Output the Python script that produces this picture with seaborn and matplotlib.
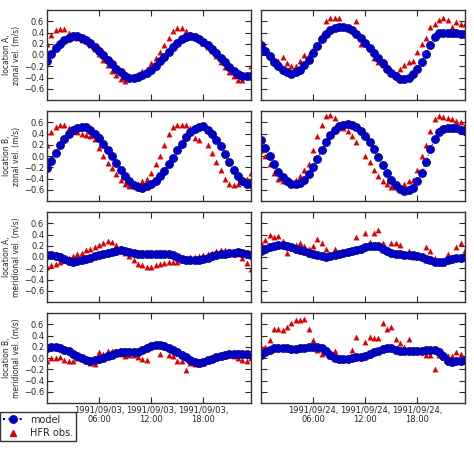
import numpy as np
import pandas as pd
import matplotlib
matplotlib.use("Agg")
import matplotlib.pyplot as plt
import seaborn as sns
from matplotlib.lines import Line2D

nan = np.nan
hours = [i * 0.5 for i in range(48)]

la_zon_model_l = [-0.10,0.02,0.12,0.20,0.27,0.31,0.33,0.33,0.31,0.27,0.22,0.15,0.08,0.00,-0.08,-0.16,-0.24,-0.31,-0.37,-0.40,-0.40,-0.39,-0.36,-0.32,-0.26,-0.19,-0.11,-0.03,0.06,0.14,0.22,0.28,0.32,0.33,0.32,0.29,0.24,0.18,0.11,0.03,-0.05,-0.13,-0.21,-0.28,-0.34,-0.38,-0.38,-0.37]
la_zon_obs_l = [0.2,0.35,0.45,0.47,0.46,0.40,0.33,0.30,0.27,0.25,0.18,0.10,0.02,-0.08,-0.18,-0.28,-0.36,-0.43,-0.46,nan,-0.38,-0.33,-0.29,-0.24,-0.15,-0.05,0.05,0.18,0.30,0.43,0.48,0.48,0.42,0.37,0.33,0.28,0.22,0.15,0.07,-0.02,-0.12,-0.22,-0.30,-0.38,-0.45,-0.45,-0.35,-0.20]
lb_zon_model_l = [-0.22,-0.08,0.05,0.19,0.30,0.40,0.46,0.50,0.52,0.51,0.47,0.40,0.32,0.22,0.11,0.0,-0.12,-0.24,-0.36,-0.45,-0.52,-0.55,-0.56,-0.54,-0.50,-0.44,-0.36,-0.26,-0.15,-0.03,0.10,0.22,0.33,0.42,0.48,0.52,0.53,0.46,0.39,0.29,0.17,0.04,-0.10,-0.24,-0.36,-0.45,-0.49,-0.50]
lb_zon_obs_l = [0.2,0.42,0.52,0.55,0.55,0.50,0.45,0.42,0.40,0.38,0.35,0.30,0.15,0.0,-0.12,-0.22,-0.32,-0.42,-0.50,-0.53,nan,-0.50,-0.45,-0.40,-0.30,-0.15,0.0,0.2,0.40,0.52,0.55,0.55,0.55,0.50,0.32,0.28,nan,0.20,0.05,-0.10,-0.25,-0.40,-0.50,-0.52,-0.50,-0.45,-0.40,-0.30]
la_mer_model_l = [0.03,0.03,0.02,0.0,-0.04,-0.07,-0.08,-0.07,-0.05,-0.03,-0.01,0.01,0.03,0.05,0.07,0.09,0.11,0.12,0.11,0.09,0.07,0.06,0.05,0.05,0.05,0.05,0.06,0.06,0.05,0.03,0.0,-0.03,-0.05,-0.06,-0.06,-0.05,-0.03,-0.01,0.01,0.03,0.05,0.06,0.07,0.08,0.09,0.08,0.06,0.04]
la_mer_obs_l = [-0.17,-0.15,-0.12,-0.08,-0.05,-0.02,0.02,0.05,0.08,0.12,0.15,0.18,0.22,0.25,0.28,0.27,0.22,0.15,0.08,0.02,-0.05,-0.12,-0.15,-0.18,-0.18,-0.15,-0.12,-0.10,-0.08,-0.08,-0.08,-0.05,-0.02,0.0,0.0,0.02,0.03,0.05,0.08,0.10,0.12,0.12,0.10,0.08,0.05,-0.02,-0.10,-0.22]
lb_mer_model_l = [0.17,0.20,0.20,0.18,0.15,0.12,0.08,0.04,0.0,-0.04,-0.05,-0.04,-0.02,0.0,0.03,0.06,0.09,0.10,0.11,0.10,0.10,0.11,0.14,0.18,0.21,0.23,0.23,0.21,0.18,0.14,0.10,0.06,0.02,-0.03,-0.07,-0.08,-0.07,-0.04,-0.01,0.02,0.04,0.06,0.07,0.07,0.07,0.07,0.07,0.06]
lb_mer_obs_l = [-0.05,0.0,0.0,0.02,-0.03,-0.05,-0.05,0.0,0.0,-0.02,-0.08,-0.1,0.1,0.08,0.12,0.13,0.1,0.08,0.03,0.05,0.05,0.02,-0.02,-0.04,nan,nan,0.08,nan,0.05,0.03,-0.05,-0.05,-0.22,-0.08,-0.1,-0.1,-0.08,-0.05,-0.02,0.0,0.02,0.03,0.05,0.03,0.0,-0.03,-0.05,0.0]

la_zon_model_r = [0.17,0.08,-0.02,-0.12,-0.2,-0.27,-0.31,-0.33,-0.31,-0.26,-0.18,-0.08,0.04,0.16,0.28,0.38,0.44,0.48,0.50,0.50,0.48,0.44,0.38,0.30,0.21,0.12,0.03,-0.06,-0.15,-0.24,-0.32,-0.38,-0.42,-0.43,-0.40,-0.34,-0.24,-0.12,0.02,0.18,0.32,0.40,0.40,0.40,0.39,0.39,0.38,0.37]
la_zon_obs_r = [nan,nan,nan,nan,-0.1,-0.03,-0.15,-0.2,-0.2,-0.1,0.0,0.0,0.1,0.2,0.35,0.6,0.65,0.65,0.66,nan,nan,nan,0.6,0.2,nan,nan,-0.05,-0.12,-0.18,-0.2,-0.3,-0.33,-0.25,-0.17,-0.13,-0.1,0.05,0.2,0.3,0.5,0.55,0.62,0.65,0.62,0.5,0.58,0.55,0.55]
lb_zon_model_r = [0.28,0.15,0.0,-0.15,-0.28,-0.38,-0.45,-0.49,-0.50,-0.48,-0.42,-0.32,-0.2,-0.05,0.1,0.25,0.38,0.47,0.53,0.56,0.57,0.56,0.52,0.45,0.36,0.25,0.12,-0.02,-0.16,-0.30,-0.42,-0.52,-0.59,-0.62,-0.61,-0.56,-0.45,-0.3,-0.1,0.12,0.30,0.42,0.48,0.50,0.50,0.49,0.47,0.45]
lb_zon_obs_r = [0.1,0.0,-0.15,-0.3,-0.4,-0.45,-0.45,-0.45,-0.42,-0.35,-0.25,-0.15,0.1,0.35,0.55,0.72,0.73,0.68,nan,0.5,0.45,0.35,0.25,nan,0.0,-0.1,-0.25,-0.35,-0.45,-0.5,-0.55,-0.55,nan,-0.5,-0.45,-0.42,-0.25,0.0,0.2,0.45,0.65,0.72,0.70,0.68,0.66,0.63,0.6,0.55]
la_mer_model_r = [0.1,0.14,0.17,0.19,0.21,0.21,0.20,0.17,0.14,0.12,0.10,0.08,0.06,0.04,0.02,0.0,0.01,0.03,0.05,0.07,0.09,0.11,0.13,0.15,0.17,0.19,0.20,0.19,0.15,0.11,0.08,0.06,0.05,0.04,0.03,0.03,0.02,0.0,-0.03,-0.06,-0.08,-0.09,-0.08,-0.06,-0.04,-0.02,-0.01,0.0]
la_mer_obs_r = [0.25,0.3,0.4,0.35,0.38,0.28,0.08,nan,0.22,0.25,0.2,0.15,0.2,0.32,0.25,0.15,nan,0.15,0.08,nan,nan,nan,0.35,0.15,0.42,0.27,0.42,0.48,0.25,0.15,0.25,0.25,0.22,0.05,0.1,0.0,0.05,0.02,0.17,0.1,-0.02,nan,-0.1,0.05,0.0,0.18,0.25,0.12]
lb_mer_model_r = [0.05,0.1,0.14,0.17,0.18,0.18,0.17,0.16,0.16,0.17,0.18,0.19,0.2,0.2,0.18,0.13,0.06,0.0,-0.02,-0.02,-0.01,0.0,0.01,0.02,0.04,0.07,0.1,0.13,0.16,0.18,0.17,0.15,0.13,0.12,0.12,0.12,0.13,0.13,0.14,0.15,0.14,0.1,0.03,-0.05,-0.07,-0.06,-0.05,-0.04]
lb_mer_obs_r = [0.2,0.2,0.32,0.52,0.52,0.5,0.55,0.62,0.68,0.68,0.7,0.52,0.32,0.15,0.08,nan,0.03,0.12,nan,nan,nan,0.15,0.38,nan,0.28,0.38,0.35,0.36,0.62,0.52,0.55,0.33,0.27,0.2,0.33,nan,0.12,nan,0.05,0.05,-0.2,0.05,0.02,0.03,0.03,0.1,0.08,nan]

row_labels = ["location A,\nzonal vel. (m/s)", "location B,\nzonal vel. (m/s)",
              "location A,\nmeridional vel. (m/s)", "location B,\nmeridional vel. (m/s)"]
xtick_pos = [6, 12, 18]
xtick_left = ["1991/09/03,\n06:00", "1991/09/03,\n12:00", "1991/09/03,\n18:00"]
xtick_right = ["1991/09/24,\n06:00", "1991/09/24,\n12:00", "1991/09/24,\n18:00"]
yticks = [-0.6, -0.4, -0.2, 0.0, 0.2, 0.4, 0.6]

panels = [
    [(la_zon_model_l, la_zon_obs_l), (la_zon_model_r, la_zon_obs_r)],
    [(lb_zon_model_l, lb_zon_obs_l), (lb_zon_model_r, lb_zon_obs_r)],
    [(la_mer_model_l, la_mer_obs_l), (la_mer_model_r, la_mer_obs_r)],
    [(lb_mer_model_l, lb_mer_obs_l), (lb_mer_model_r, lb_mer_obs_r)],
]

sns.set_style("ticks")
plt.rcParams['font.family'] = ['DejaVu Sans']
plt.rcParams['font.size'] = 6

W = 474.0
fig = plt.figure(figsize=(4.74, 4.74), dpi=100)
lefts = [47, 261]
tops = [10, 111, 212, 313]
aw, ah = 204, 90
BLUE = "#0000cc"
RED = "#dd0000"
for r in range(4):
    for c in range(2):
        ax = fig.add_axes([lefts[c] / W, 1 - (tops[r] + ah) / W, aw / W, ah / W])
        model, obs = panels[r][c]
        df = pd.DataFrame({"t": hours, "m": model, "o": obs})
        sns.lineplot(data=df, x="t", y="m", ax=ax, color=BLUE, linestyle=":",
                     linewidth=0.8, marker="o", markersize=5.8,
                     markeredgecolor="#000088", markeredgewidth=0.5)
        sns.scatterplot(data=df.dropna(), x="t", y="o", ax=ax, color=RED,
                        marker="^", s=18, edgecolor=RED, linewidth=0, zorder=1)
        ax.set_xlim(0, 23.5)
        ax.set_ylim(-0.8, 0.8)
        ax.set_yticks(yticks)
        ax.set_xticks(xtick_pos)
        ax.tick_params(direction="in", top=True, right=True, length=4,
                       labelsize=6, pad=2)
        for s in ax.spines.values():
            s.set_color("#333333")
            s.set_linewidth(1.0)
        ax.set_xlabel("")
        if c == 0:
            ax.set_ylabel(row_labels[r], fontsize=5.5, labelpad=2, linespacing=1.1)
            ax.set_yticklabels([f"{v:.1f}".replace("-", "\u2212") for v in yticks])
        else:
            ax.set_ylabel("")
            ax.set_yticklabels([])
        if r == 3:
            ax.set_xticklabels(xtick_left if c == 0 else xtick_right, fontsize=6,
                               linespacing=1.1)
        else:
            ax.set_xticklabels([])

handles = [
    Line2D([], [], color=BLUE, linestyle=":", marker="o", markersize=5.8,
           markeredgecolor="#000088", markeredgewidth=0.5),
    Line2D([], [], color=RED, linestyle="none", marker="^", markersize=4),
]
leg = fig.legend(handles, ["model", "HFR obs."], loc="lower left",
                 bbox_to_anchor=(0.0, 1 - 441 / W), fontsize=7, frameon=True,
                 fancybox=False, borderaxespad=0, handlelength=2.0,
                 borderpad=0.3, labelspacing=0.35, handletextpad=0.8)
leg.get_frame().set_edgecolor("black")
leg.get_frame().set_linewidth(1.0)

fig.savefig("out.png", dpi=100, facecolor="white")
